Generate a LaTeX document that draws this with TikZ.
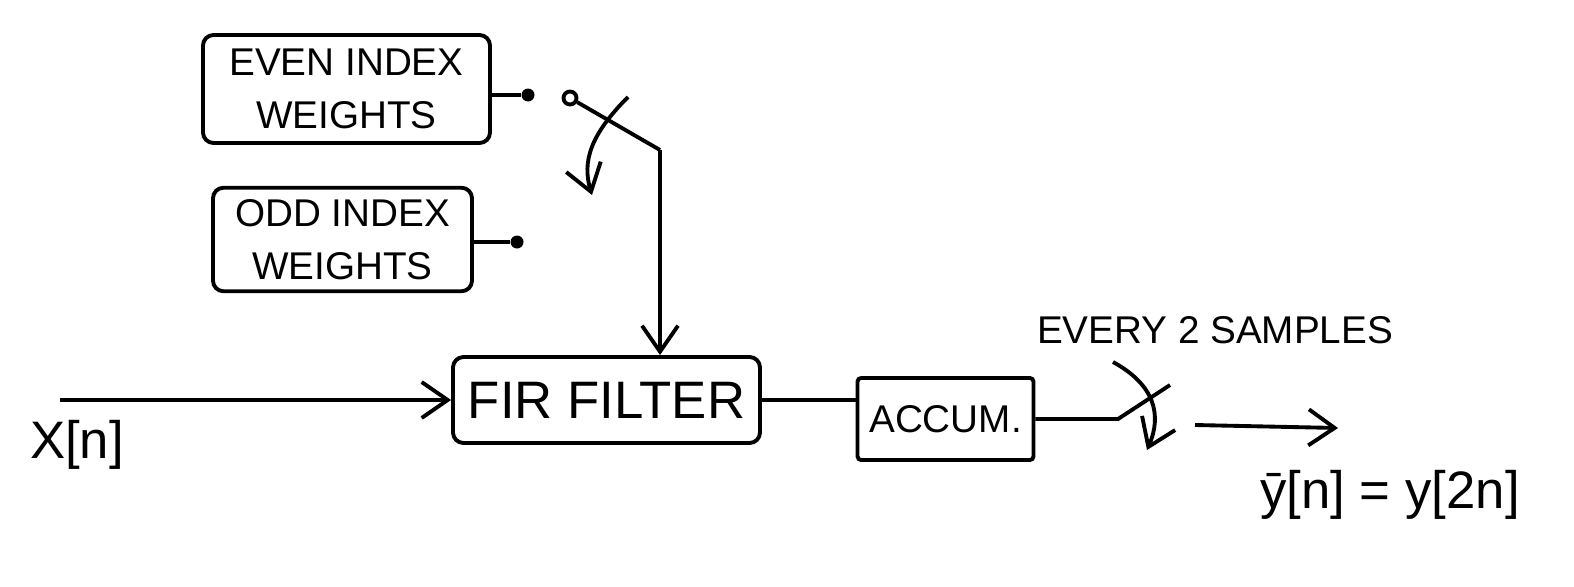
\documentclass[tikz,border=0pt]{standalone}
\usepackage{fontspec}
\setmainfont{Liberation Sans}
\usetikzlibrary{arrows.meta, positioning, calc}
\tikzset{
  wbox/.style={rectangle, draw, rounded corners=3pt, line width=1.1pt,
    align=center, font=\fontsize{11}{15}\selectfont},
  sigdot/.style={circle, fill, inner sep=0pt, minimum size=0.13cm},
  pivot/.style={circle, draw, line width=1.1pt, inner sep=0pt, minimum size=0.13cm},
  wire/.style={line width=1.1pt},
  arrow/.style={-{Straight Barb[length=2.6mm, width=3.6mm]}, line width=1.1pt},
  lbl/.style={font=\fontsize{15}{18}\selectfont}
}
\begin{document}
\begin{tikzpicture}
  \useasboundingbox (0,0) rectangle (15.74,-5.86);
  % weight banks and switch
  \node[wbox, minimum width=2.87cm, minimum height=1.08cm] (even) at (3.465,-0.89) {EVEN INDEX\\WEIGHTS};
  \node[wbox, minimum width=2.59cm, minimum height=0.85cm] (odd) at (3.425,-2.395) {ODD INDEX\\WEIGHTS};
  \node[sigdot] (evendot) at (5.28,-0.95) {};
  \node[sigdot] (odddot) at (5.17,-2.42) {};
  \node[pivot] (piv) at (5.70,-0.98) {};
  \coordinate (bend) at (6.60,-1.50);
  \draw[wire] (even.east |- evendot) -- (evendot);
  \draw[wire] (odd.east |- odddot) -- (odddot);
  % filter chain
  \node[wbox, minimum width=3.07cm, minimum height=0.86cm, font=\fontsize{15}{18}\selectfont] (fir) at (6.065,-4.00) {FIR FILTER};
  \node[wbox, rounded corners=1pt, minimum width=1.75cm, minimum height=0.82cm] (acc) at (9.455,-4.19) {ACCUM.};
  \coordinate (xin) at (0.60,-4.00);
  \coordinate (sw) at (11.18,-4.19);
  \coordinate (swtip) at (11.70,-3.85);
  \coordinate (yout) at (11.95,-4.25);
  \coordinate (yend) at (13.38,-4.28);
  \draw[wire] (piv) -- (bend);
  \draw[arrow] (bend) -- (bend |- fir.north);
  \draw[arrow] (6.28,-0.97) .. controls (5.90,-1.35) and (5.82,-1.62) .. (5.92,-1.95);
  \draw[arrow] (xin) -- (fir.west);
  \draw[wire] (fir.east) -- (fir.east -| acc.west);
  \draw[wire] (acc.east) -- (sw) -- (swtip);
  \draw[arrow] (11.13,-3.62) .. controls (11.55,-3.85) and (11.62,-4.15) .. (11.47,-4.50);
  \draw[arrow] (yout) -- (yend);
  \node[lbl] (xlbl) at (0.77,-4.45) {X[n]};
  \node[font=\fontsize{11}{13}\selectfont] (every) at (12.15,-3.30) {EVERY 2 SAMPLES};
  \node[lbl] (ylbl) at (13.90,-4.95) {\=y[n] = y[2n]};
\end{tikzpicture}
\end{document}
